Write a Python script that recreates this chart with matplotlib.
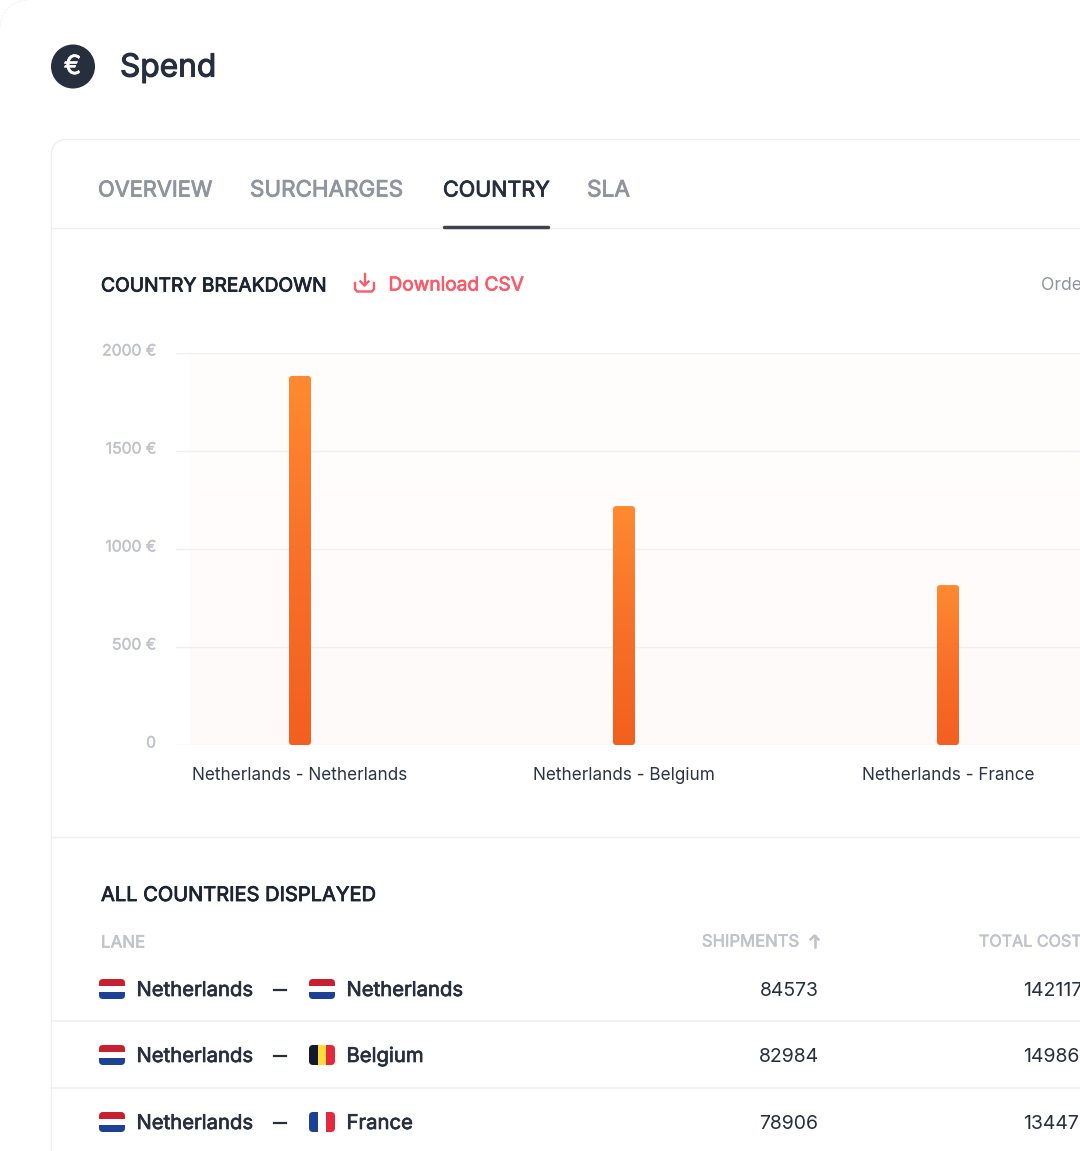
import numpy as np
import matplotlib
matplotlib.use("Agg")
import matplotlib.pyplot as plt
import matplotlib.patheffects as pe
from matplotlib.patches import FancyBboxPatch, PathPatch, Circle, Rectangle, Arc
from matplotlib.path import Path
from matplotlib.colors import LinearSegmentedColormap

# ---- data ----
lanes = ["Netherlands - Netherlands", "Netherlands - Belgium", "Netherlands - France"]
spend = [1883, 1219, 816]
y_ticks = [0, 500, 1000, 1500, 2000]
y_labels = ["0", "500 €", "1000 €", "1500 €", "2000 €"]
tabs = ["OVERVIEW", "SURCHARGES", "COUNTRY", "SLA"]
origin = ["Netherlands", "Netherlands", "Netherlands"]
destination = ["Netherlands", "Belgium", "France"]
shipments = ["84573", "82984", "78906"]
total_cost = ["142117", "14986", "13447"]

W, H = 1080, 1151
plt.rcParams["font.family"] = ["Inter", "DejaVu Sans"]
DARK = "#272f3f"
INK = "#1c2333"
GREY = "#8f949e"
LIGHT = "#c0c3cb"
LINE = "#f0f0f2"
RED = "#fb5a68"

fig = plt.figure(figsize=(W / 100, H / 100), dpi=100, facecolor="white")
bg = fig.add_axes([0, 0, 1, 1])
bg.set_xlim(0, W)
bg.set_ylim(H, 0)
bg.axis("off")


def label(x, y, s, color, size, heavy=0.0, **kw):
    kw.setdefault("va", "center")
    t = bg.text(x, y, s, color=color, fontsize=size, **kw)
    if heavy:
        t.set_path_effects([pe.withStroke(linewidth=heavy, foreground=color)])
    return t


# page corner and card outline
bg.add_patch(Arc((28, 28), 56, 56, theta1=180, theta2=270, ec="#dcdcde", lw=0.6, ls=(0, (1, 2))))
bg.add_patch(FancyBboxPatch((51.5, 139.5), 1200, 1200, boxstyle="round,pad=0,rounding_size=16",
                            fc="white", ec="#efeff1", lw=1))

# header
bg.add_patch(Circle((73, 66.5), 22, fc=DARK, ec="none"))
label(72.5, 67, "€", "white", 19, heavy=0.4, ha="center")
label(120, 68, "Spend", DARK, 22.8, heavy=0.8)

# tabs
tab_x = [98, 250, 443, 587]
tab_size = [15.7, 16.15, 15.5, 16.3]
for name, x, sz in zip(tabs, tab_x, tab_size):
    label(x, 190.5, name, DARK if name == "COUNTRY" else GREY, sz, heavy=0.6)
bg.plot([52, W], [228, 228], color=LINE, lw=1)
bg.plot([444, 548], [226.5, 226.5], color="#3c4252", lw=2.5, solid_capstyle="round")

# section heading
label(101, 286.5, "COUNTRY BREAKDOWN", INK, 13.85, heavy=0.6)
bg.plot([355, 355, 357, 372, 374, 374], [283, 289, 291.5, 291.5, 289, 283], color=RED, lw=1.7,
        solid_joinstyle="round")
bg.plot([364.5, 364.5], [274, 285], color=RED, lw=1.7)
bg.plot([360.5, 364.5, 368.5], [281.5, 285.5, 281.5], color=RED, lw=1.7)
label(388.5, 285.5, "Download CSV", RED, 13.75, heavy=0.5)
label(1041, 285, "Orde", GREY, 12.7)

# chart: plot region spans x 176..1080 px and y 353..745 px
L, R, T, B = 176, 1080, 353, 745
ax = fig.add_axes([L / W, 1 - B / H, (R - L) / W, (B - T) / H])
ax.patch.set_alpha(0)
slot = 324.0
for s in ax.spines.values():
    s.set_visible(False)
ax.set_xticks([])
ax.set_yticks([])
px_y = (B - T) / 2000

# faint panel wash
wash = LinearSegmentedColormap.from_list("w", ["#fffafa", "#fffefd"])
ax.imshow(np.linspace(0, 1, 64)[:, None], cmap=wash, origin="lower", aspect="auto", zorder=0,
          extent=[(190 - 300) / slot, (R - 300) / slot, 0, 2000])

for v in y_ticks:
    ax.axhline(v, color="#eeeff2", lw=1, zorder=1)

# bars with a vertical gradient and rounded corners
orange = LinearSegmentedColormap.from_list("o", ["#f35f1f", "#f8702a", "#ff8a30"])
bars = ax.bar(range(len(spend)), spend, width=22 / slot, color="#f8702a", zorder=2)
for b in bars:
    x0, w, h = b.get_x(), b.get_width(), b.get_height()
    x1 = x0 + w
    rx, ry = 3 / slot, 3 / px_y
    verts = [(x0 + rx, 0), (x1 - rx, 0), (x1, 0), (x1, ry), (x1, h - ry), (x1, h), (x1 - rx, h),
             (x0 + rx, h), (x0, h), (x0, h - ry), (x0, ry), (x0, 0), (x0 + rx, 0), (x0 + rx, 0)]
    codes = [Path.MOVETO, Path.LINETO, Path.CURVE3, Path.CURVE3, Path.LINETO, Path.CURVE3, Path.CURVE3,
             Path.LINETO, Path.CURVE3, Path.CURVE3, Path.LINETO, Path.CURVE3, Path.CURVE3, Path.CLOSEPOLY]
    clip = PathPatch(Path(verts, codes), transform=ax.transData, fc="none", ec="none")
    ax.add_patch(clip)
    im = ax.imshow(np.linspace(0, 1, 128)[:, None], cmap=orange, origin="lower", aspect="auto",
                   extent=[x0, x1, 0, h], zorder=3)
    im.set_clip_path(clip)
    b.set_visible(False)
ax.set_xlim((L - 300) / slot, (R - 300) / slot)
ax.set_ylim(0, 2000)

for v, lab in zip(y_ticks, y_labels):
    label(156, B - v * px_y - 2, lab, LIGHT, 11.3, heavy=0.25, ha="right")
for i, lab in enumerate(lanes):
    label(300 + i * slot, 775, lab, "#2c3342", 12.3, ha="center")

bg.plot([52, W], [837, 837], color=LINE, lw=1)

# table
label(101, 896, "ALL COUNTRIES DISPLAYED", INK, 14.45, heavy=0.6)
label(101, 943, "LANE", LIGHT, 12.2, heavy=0.4)
label(799, 942, "SHIPMENTS", LIGHT, 12, heavy=0.4, ha="right")
bg.plot([814.5, 814.5], [935.5, 946.5], color=LIGHT, lw=1.8)
bg.plot([810.5, 814.5, 818.5], [939.5, 935.5, 939.5], color=LIGHT, lw=1.8)
label(979, 942, "TOTAL COST", LIGHT, 11.6, heavy=0.4)
for y in (1021, 1087.5):
    bg.plot([52, W], [y, y], color=LINE, lw=1.2)


def flag(x, yc, kind):
    w, h = 26, 20
    clip = FancyBboxPatch((x + 3, yc - h / 2 + 3), w - 6, h - 6, boxstyle="round,pad=3,rounding_size=4",
                          fc="none", ec="none")
    bg.add_patch(clip)
    if kind == "Netherlands":
        parts = [(x, yc - 10, w, 6.7, "#c8202f"), (x, yc - 3.3, w, 6.6, "#ffffff"),
                 (x, yc + 3.3, w, 6.7, "#1d4293")]
    elif kind == "Belgium":
        parts = [(x, yc - 10, 8.7, h, "#14192a"), (x + 8.7, yc - 10, 8.6, h, "#fcdc3c"),
                 (x + 17.3, yc - 10, 8.7, h, "#e4293c")]
    else:
        parts = [(x, yc - 10, 8.7, h, "#1d4293"), (x + 8.7, yc - 10, 8.6, h, "#ffffff"),
                 (x + 17.3, yc - 10, 8.7, h, "#e4293c")]
    for px, py, pw, ph, c in parts:
        r = Rectangle((px, py), pw, ph, fc=c, ec="none")
        bg.add_patch(r)
        r.set_clip_path(clip)


row_y = [989, 1055, 1122]
for o, d, s, c, y in zip(origin, destination, shipments, total_cost, row_y):
    flag(99, y, o)
    label(136.5, y + 2, o, DARK, 14.6, heavy=0.5)
    bg.plot([274, 286], [y + 0.5, y + 0.5], color=DARK, lw=1.6)
    flag(309, y, d)
    label(346.5, y + 2, d, DARK, 14.6, heavy=0.5)
    label(818.5, y + 2, s, DARK, 14, ha="right")
    label(1023, y + 2, c, DARK, 14)

fig.savefig("out.png", dpi=100, facecolor="white")
